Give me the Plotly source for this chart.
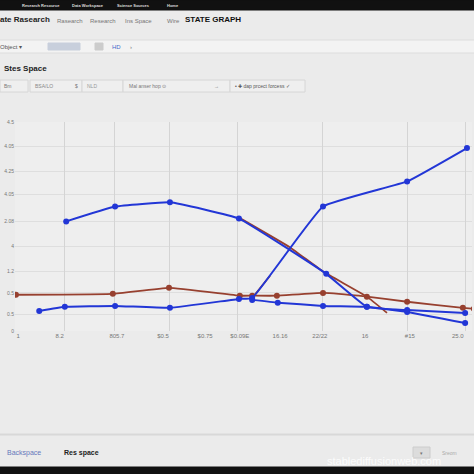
import plotly.graph_objects as go

# ---------------- data ----------------
x_ticks_labels = ["1", "8.2", "805.7", "$0.5", "$0.75", "$0.09E", "16.16", "22/22", "16", "#15", "25.0"]
x_ticks_vals = [0.07, 0.98, 2.23, 3.24, 4.16, 4.92, 5.80, 6.67, 7.66, 8.64, 9.69]
x_grid_vals = [0, 1.09, 2.17, 3.39, 4.86, 6.72, 8.58, 9.85]

y_tick_vals = [0, 0.35, 0.82, 1.28, 1.82, 2.36, 2.94, 3.44, 3.98, 4.5]
y_tick_text = ["0", "0.5", "0.5", "1.2", "4", "2.08", "4.05", "4.25", "4.05", "4.5"]

blue1_x = [1.12, 2.19, 3.39, 4.90, 6.81, 7.70, 8.58, 9.85]
blue1_y = [2.36, 2.68, 2.77, 2.42, 1.23, 0.52, 0.45, 0.39]

blue2_x = [0.53, 1.09, 2.19, 3.39, 4.90, 5.19, 6.74, 8.58, 9.89]
blue2_y = [0.43, 0.52, 0.54, 0.50, 0.69, 0.71, 2.68, 3.22, 3.94]

blue3_x = [5.19, 5.75, 6.74, 7.70, 8.58, 9.85]
blue3_y = [0.67, 0.61, 0.54, 0.52, 0.41, 0.17]

brown1_x = [0.02, 2.14, 3.37, 4.92, 5.19, 5.73, 6.74, 7.70, 8.58, 9.80, 10.04]
brown1_y = [0.78, 0.80, 0.93, 0.76, 0.76, 0.76, 0.82, 0.74, 0.63, 0.50, 0.48]

brown2_x = [4.94, 6.02, 6.74, 7.70, 8.14]
brown2_y = [2.42, 1.80, 1.28, 0.74, 0.39]

brown3_x = [5.19, 5.58]
brown3_y = [0.71, 1.19]

BLUE = "#2236d6"
BROWN = "#97402f"

W, H = 474, 474
L, R, T, B = 15, 472, 122, 331


def px(x):
    return (x - L) / (R - L)


def py(y):
    return (B - y) / (B - T)


fig = go.Figure()

# gridline overlay axis
fig.add_trace(go.Scatter(x=[0], y=[0], xaxis="x2", mode="markers",
                         marker=dict(opacity=0), showlegend=False, hoverinfo="skip"))


def line(x, y, color, markers=True, width=2):
    fig.add_trace(go.Scatter(
        x=x, y=y, mode="lines+markers" if markers else "lines",
        line=dict(color=color, width=width, shape="spline", smoothing=0.3),
        marker=dict(color=color, size=6), showlegend=False))


line(brown1_x, brown1_y, BROWN, width=1.8)
line(brown2_x, brown2_y, BROWN, markers=False, width=1.8)
line(brown3_x, brown3_y, BROWN, markers=False, width=1.8)
line(blue3_x, blue3_y, BLUE)
line(blue1_x, blue1_y, BLUE)
line(blue2_x, blue2_y, BLUE)

BG = "#ebebeb"
fig.update_layout(
    width=W, height=H,
    margin=dict(l=L, r=W - R, t=T, b=H - B),
    paper_bgcolor=BG, plot_bgcolor="#eeeeee",
    xaxis=dict(range=[0, 10], tickvals=x_ticks_vals, ticktext=x_ticks_labels,
               showgrid=False, zeroline=False, showline=False,
               tickfont=dict(size=6, color="#777", family="Liberation Sans"), ticks=""),
    xaxis2=dict(range=[0, 10], overlaying="x", tickvals=x_grid_vals, showticklabels=False,
                showgrid=True, gridcolor="#d4d4d4", gridwidth=1, zeroline=False),
    yaxis=dict(range=[0, 4.5], tickvals=y_tick_vals, ticktext=y_tick_text,
               showgrid=True, gridcolor="#dedede", zeroline=False, showline=False,
               tickfont=dict(size=5, color="#777", family="Liberation Sans"), ticks=""),
    font=dict(family="Liberation Sans"),
)

shapes = []


def rect(x0, y0, x1, y1, fill, line_color=None):
    shapes.append(dict(type="rect", xref="paper", yref="paper",
                       x0=px(x0), x1=px(x1), y0=py(y1), y1=py(y0),
                       fillcolor=fill, line=dict(color=line_color or fill, width=1),
                       layer="below"))


rect(-20, 0, 480, 10, "#111111")
rect(-20, 40, 480, 53, "#f3f3f3", "#dddddd")
rect(0, 80, 28, 92, "#efefef", "#d6d6d6")
rect(30, 80, 82, 92, "#efefef", "#d6d6d6")
rect(82, 80, 123, 92, "#efefef", "#d6d6d6")
rect(123, 80, 230, 92, "#efefef", "#d6d6d6")
rect(230, 80, 305, 92, "#efefef", "#d6d6d6")
rect(48, 43, 80, 50, "#c8cfdc")
rect(95, 43, 103, 50, "#cccccc")
rect(-20, 434, 480, 435, "#d8d8d8")
rect(413, 447, 430, 458, "#dcdcdc", "#cccccc")
rect(-20, 467, 480, 480, "#111111")
fig.update_layout(shapes=shapes)

anns = []


def text(x, y, s, size=7, color="#333", bold=False, anchor="left"):
    anns.append(dict(xref="paper", yref="paper", x=px(x), y=py(y), text=("<b>%s</b>" % s) if bold else s,
                     showarrow=False, xanchor=anchor, yanchor="middle",
                     font=dict(size=size, color=color, family="Liberation Sans")))


text(20, 5, "Research Resource", 4, "#ddd", True)
text(70, 5, "Data Workspace", 4, "#ddd", True)
text(115, 5, "Science Sources", 4, "#ddd", True)
text(165, 5, "Home", 4, "#ddd", True)
text(-2, 20, "ate Rasearch", 8, "#222", True)
text(55, 21, "Rasearch", 6, "#777")
text(88, 21, "Research", 6, "#777")
text(123, 21, "Ins Space", 6, "#777")
text(165, 21, "Wire", 6, "#777")
text(183, 20, "STATE GRAPH", 8, "#111", True)
text(-2, 47, "Object ▾", 6, "#555")
text(110, 47, "HD", 6, "#4a6acb")
text(128, 47, "›", 6, "#777")
text(2, 68, "Stes Space", 8, "#222", True)
text(2, 86, "Bm", 5, "#777")
text(33, 86, "BSA/LO", 5, "#888")
text(73, 86, "$", 5, "#777")
text(85, 86, "NLD", 5, "#999")
text(127, 86, "Mal anser hop ⊙", 5, "#777")
text(212, 86, "→", 5, "#777")
text(233, 86, "• ✚ dap prcect forcess ✓", 5, "#555")
text(5, 453, "Backspace", 7, "#6677bb")
text(62, 453, "Res space", 7, "#222", True)
text(418, 453, "▾", 5, "#777")
text(440, 453, "Sreom", 5, "#aaa")
text(325, 461, "stablediffusionweb.com", 11, "rgba(255,255,255,0.85)")
fig.update_layout(annotations=anns)

fig.write_html("out.html", config={"displayModeBar": False},
               post_script="document.body.style.margin='0';document.body.style.overflow='hidden';")
